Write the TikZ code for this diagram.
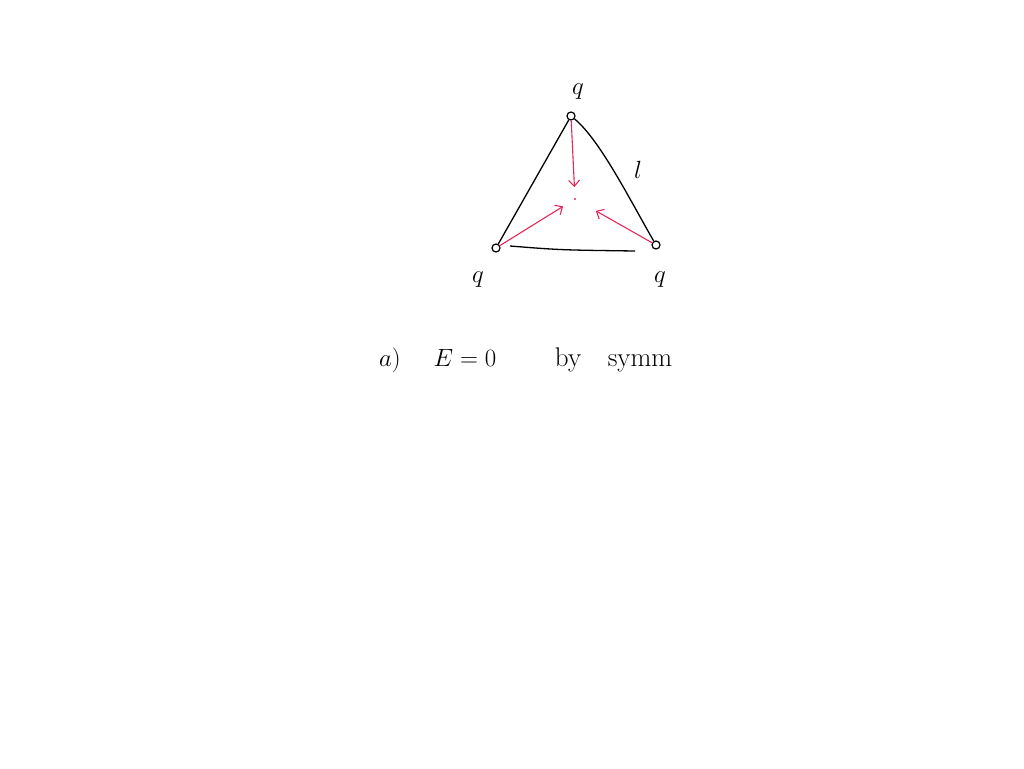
\documentclass[tikz,border=0pt]{standalone}
\usepackage{tikz}
\usetikzlibrary{arrows,arrows.meta}
\definecolor{fieldred}{RGB}{226,40,90}

\begin{document}
\begin{tikzpicture}[x=1pt,y=-1pt,>=stealth',line width=1.3pt,
				charge node/.style={circle,draw,inner sep=0pt,minimum size=8pt,line width=1.2pt},
				label node/.style={font=\fontsize{26}{30}\selectfont},
				text node/.style={font=\fontsize{27}{32}\selectfont,anchor=base}]

				\useasboundingbox (0,0) rectangle (1024,768);

				\node[charge node] (1) at (571,116) {};
				\node[charge node] (2) at (496,248) {};
				\node[charge node] (3) at (656,245) {};
				\coordinate (c) at (575,199);
				\fill[fieldred] (c) circle (1.2pt);

				\node[label node] (q1) at (578,92) {$q$};
				\node[label node] (q2) at (478,280) {$q$};
				\node[label node] (q3) at (660,280) {$q$};
				\node[label node] (l) at (638,170) {$l$};

				% sides of the triangle
				\draw (1) -- (2);
				\draw (1) .. controls (600,140) and (630,200) .. (3);
				\draw (2) ++(14,-2) coordinate (b1) .. controls (560,250) .. (635,251) coordinate (b2);

				% fields pointing to the centre
				\path[draw=fieldred,line width=1.1pt,-{Straight Barb[length=6pt,width=11pt]}]
				(1) edge [shorten >=12pt] (c)
				(2) edge [shorten >=14pt] (c)
				(3) edge [shorten >=24pt] (c);

				\node[text node] (a) at (390,366) {$a)$};
				\node[text node] (E) at (465,366) {$E = 0$};
				\node[text node] (by) at (568,366) {by};
				\node[text node] (sym) at (640,366) {symm};

			\end{tikzpicture}
\end{document}
